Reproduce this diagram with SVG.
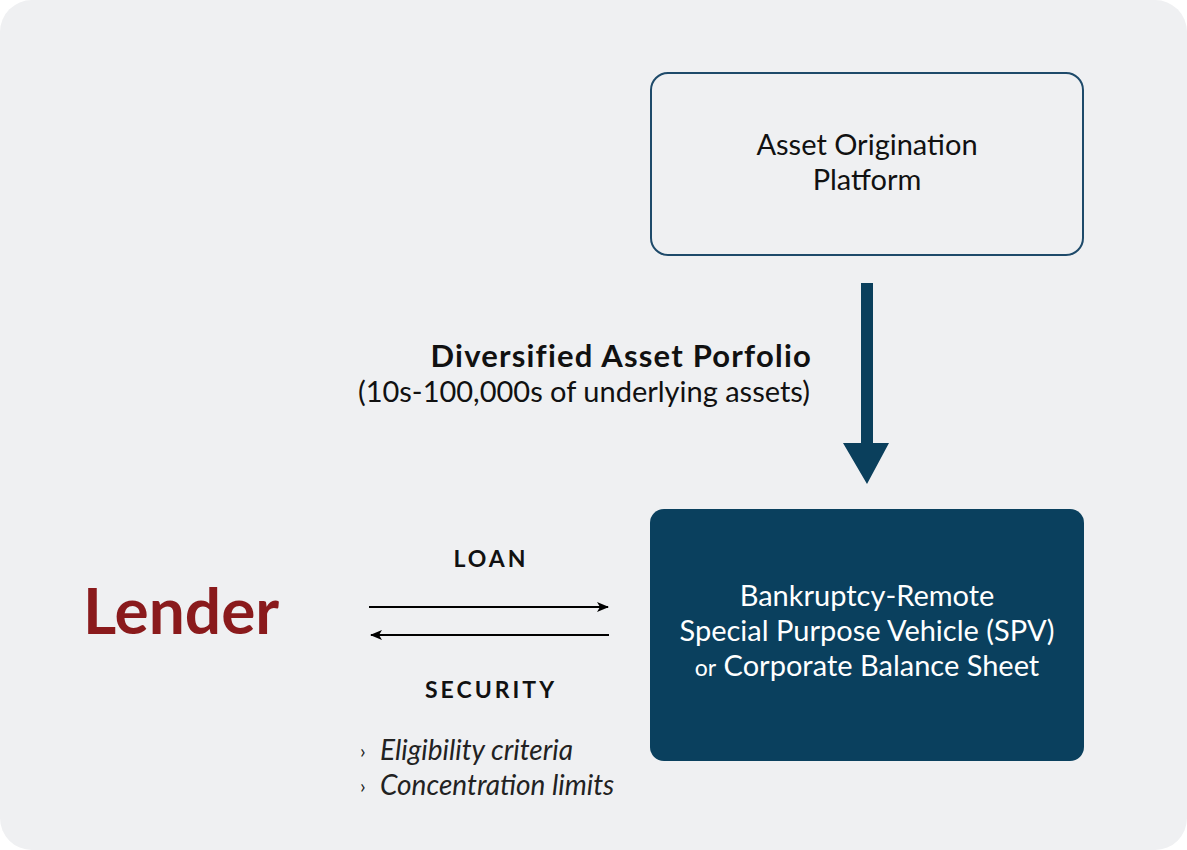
<svg xmlns="http://www.w3.org/2000/svg" width="1187" height="850" viewBox="0 0 1187 850">
<defs>
<marker id="ah" viewBox="0 0 12 10" refX="11" refY="5" markerWidth="12" markerHeight="10" markerUnits="userSpaceOnUse" orient="auto">
<path d="M0,0 L12,5 L0,10 L3,5 Z" fill="#000"/>
</marker>
<style>
.t{font-family:Lato,"Liberation Sans",sans-serif;}
.box{font-size:29px;fill:#111;text-anchor:middle;}
.wbox{font-size:29px;fill:#fff;text-anchor:middle;}
.lbl{font-size:23px;font-weight:bold;letter-spacing:3px;fill:#111;text-anchor:middle;}
.it{font-size:28px;font-style:italic;fill:#222;}
.conn{stroke:#000;stroke-width:2;fill:none;}
</style>
</defs>
<rect x="0" y="0" width="1187" height="850" fill="#ffffff"/>
<rect x="0" y="0" width="1187" height="850" rx="32" fill="#eff0f2"/>
<g id="origination">
<rect x="651" y="73" width="432" height="182" rx="17" fill="#eff0f2" stroke="#1e4a6a" stroke-width="2"/>
<text class="t box" x="867" y="155">Asset Origination</text>
<text class="t box" x="867" y="190">Platform</text>
</g>
<g id="spv">
<rect x="650" y="509" width="434" height="252" rx="14" fill="#0a405e"/>
<text class="t wbox" x="867" y="606">Bankruptcy-Remote</text>
<text class="t wbox" x="867" y="641">Special Purpose Vehicle (SPV)</text>
<text class="t wbox" x="867" y="676"><tspan font-size="23">or</tspan> Corporate Balance Sheet</text>
</g>
<g id="lender">
<text class="t" x="83" y="634" font-size="64" font-weight="bold" fill="#8a1a1c">Lender</text>
</g>
<g id="portfolio-label">
<text class="t" x="812" y="367" font-size="31" font-weight="bold" letter-spacing="1.2" fill="#111" text-anchor="end">Diversified Asset Porfolio</text>
<text class="t" x="810" y="402" font-size="29" fill="#111" text-anchor="end">(10s-100,000s of underlying assets)</text>
</g>
<g id="connectors">
<path d="M861,283 H873 V443 H889 L867,484 L843,443 H861 Z" fill="#0a3f5c"/>
<line class="conn" x1="369" y1="607" x2="608" y2="607" stroke-width="1.8" marker-end="url(#ah)"/>
<line class="conn" x1="609" y1="635" x2="371" y2="635" stroke-width="2.4" marker-end="url(#ah)"/>
<text class="t lbl" x="491" y="567">LOAN</text>
<text class="t lbl" x="491" y="698">SECURITY</text>
</g>
<g id="criteria">
<text class="t" x="360" y="758" font-size="20" fill="#222">›</text>
<text class="t it" x="380" y="760">Eligibility criteria</text>
<text class="t" x="360" y="793" font-size="20" fill="#222">›</text>
<text class="t it" x="380" y="795">Concentration limits</text>
</g>
</svg>
